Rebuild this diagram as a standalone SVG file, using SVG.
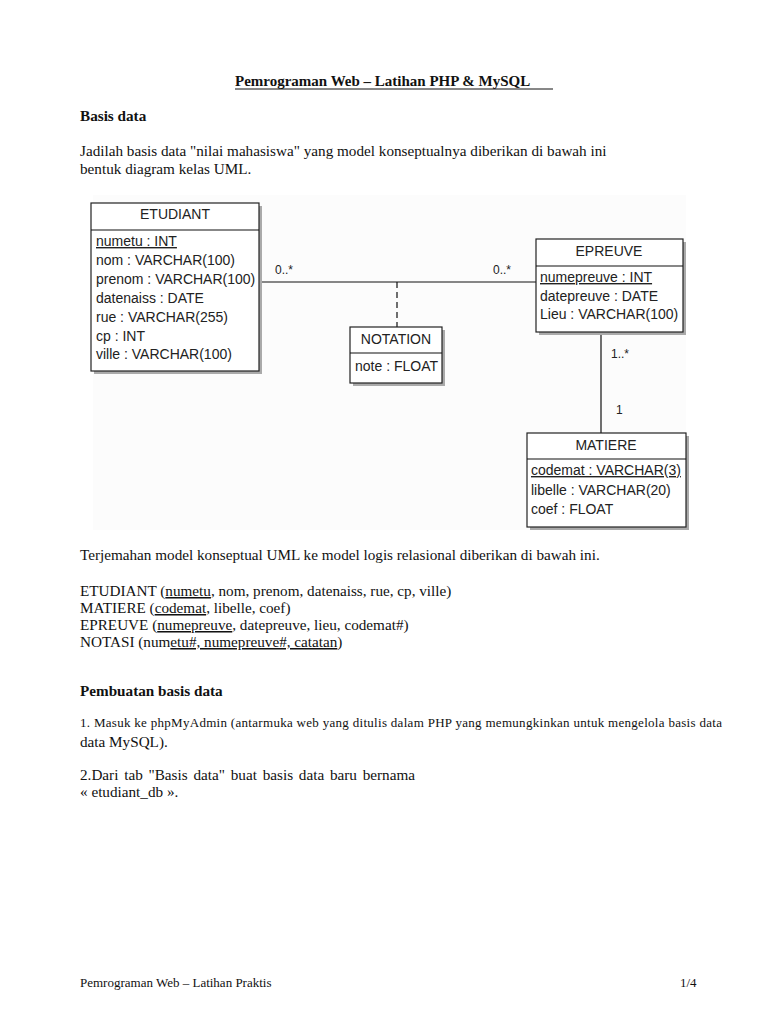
<svg xmlns="http://www.w3.org/2000/svg" width="768" height="1024" viewBox="0 0 768 1024">
<style>
.t{font-family:"Liberation Serif","Times New Roman",serif;font-size:15.2px;fill:#111}
.b{font-weight:bold}
.s{font-family:"Liberation Sans",Arial,sans-serif;font-size:14px;fill:#222}
.m{font-family:"Liberation Sans",Arial,sans-serif;font-size:12px;fill:#222}
.box{fill:#fff;stroke:#222;stroke-width:1.2}
.sh{fill:#aaa}
.ln{stroke:#111;stroke-width:1.2;fill:none}
</style>
<rect width="768" height="1024" fill="#fff"/>
<text class="t b" x="235" y="86" style="font-size:15px">Pemrograman Web – Latihan PHP &amp; MySQL</text>
<line x1="235" y1="89" x2="553" y2="89" stroke="#111" stroke-width="1"/>
<text class="t b" x="80" y="121">Basis data</text>
<text class="t" x="80" y="156">Jadilah basis data "nilai mahasiswa" yang model konseptualnya diberikan di bawah ini</text>
<text class="t" x="80" y="174">bentuk diagram kelas UML.</text>
<rect x="93" y="195" width="593" height="335" fill="#fcfcfc"/>
<g id="connectors">
<line class="ln" x1="259" y1="282" x2="536" y2="282"/>
<line class="ln" x1="397" y1="282" x2="397" y2="327" stroke-dasharray="6,4"/>
<line class="ln" x1="601" y1="332" x2="601" y2="433"/>
<text class="m" x="275" y="274">0..*</text>
<text class="m" x="493" y="274">0..*</text>
<text class="m" x="611" y="358">1..*</text>
<text class="m" x="616" y="414">1</text>
</g>
<g id="etudiant">
<rect class="sh" x="94" y="206" width="168" height="168"/>
<rect class="box" x="91" y="203" width="168" height="168"/>
<line class="ln" x1="91" y1="230" x2="259" y2="230"/>
<text class="s" x="175" y="219" text-anchor="middle">ETUDIANT</text>
<text class="s" x="96" y="246" text-decoration="underline">numetu : INT</text>
<text class="s" x="96" y="265">nom : VARCHAR(100)</text>
<text class="s" x="96" y="284">prenom : VARCHAR(100)</text>
<text class="s" x="96" y="303">datenaiss : DATE</text>
<text class="s" x="96" y="322">rue : VARCHAR(255)</text>
<text class="s" x="96" y="341">cp : INT</text>
<text class="s" x="96" y="359">ville : VARCHAR(100)</text>
</g>
<g id="notation">
<rect class="sh" x="353" y="330" width="92" height="56"/>
<rect class="box" x="350" y="327" width="92" height="56"/>
<line class="ln" x1="350" y1="353" x2="442" y2="353"/>
<text class="s" x="396" y="344" text-anchor="middle">NOTATION</text>
<text class="s" x="355" y="371">note : FLOAT</text>
</g>
<g id="epreuve">
<rect class="sh" x="539" y="242" width="147" height="93"/>
<rect class="box" x="536" y="239" width="147" height="93"/>
<line class="ln" x1="536" y1="266" x2="683" y2="266"/>
<text class="s" x="609" y="256" text-anchor="middle">EPREUVE</text>
<text class="s" x="540" y="282" text-decoration="underline">numepreuve : INT</text>
<text class="s" x="540" y="301">datepreuve : DATE</text>
<text class="s" x="540" y="319">Lieu : VARCHAR(100)</text>
</g>
<g id="matiere">
<rect class="sh" x="530" y="436" width="159" height="94"/>
<rect class="box" x="527" y="433" width="159" height="94"/>
<line class="ln" x1="527" y1="459" x2="686" y2="459"/>
<text class="s" x="606" y="450" text-anchor="middle">MATIERE</text>
<text class="s" x="531" y="475" text-decoration="underline">codemat : VARCHAR(3)</text>
<text class="s" x="531" y="495">libelle : VARCHAR(20)</text>
<text class="s" x="531" y="514">coef : FLOAT</text>
</g>
<text class="t" x="80" y="560">Terjemahan model konseptual UML ke model logis relasional diberikan di bawah ini.</text>
<text class="t" x="80" y="596">ETUDIANT (<tspan text-decoration="underline">numetu</tspan>, nom, prenom, datenaiss, rue, cp, ville)</text>
<text class="t" x="80" y="613">MATIERE (<tspan text-decoration="underline">codemat</tspan>, libelle, coef)</text>
<text class="t" x="80" y="630">EPREUVE (<tspan text-decoration="underline">numepreuve</tspan>, datepreuve, lieu, codemat#)</text>
<text class="t" x="80" y="647">NOTASI (num<tspan text-decoration="underline">etu#, numepreuve#, catatan</tspan>)</text>
<text class="t b" x="80" y="696">Pembuatan basis data</text>
<text class="t" x="80" y="727" style="font-size:13px" textLength="642" lengthAdjust="spacing">1. Masuk ke phpMyAdmin (antarmuka web yang ditulis dalam PHP yang memungkinkan untuk mengelola basis data</text>
<text class="t" x="80" y="747">data MySQL).</text>
<text class="t" x="80" y="780" word-spacing="2">2.Dari tab "Basis data" buat basis data baru bernama</text>
<text class="t" x="80" y="797">« etudiant_db ».</text>
<text class="t" x="80" y="987" style="font-size:13px">Pemrograman Web – Latihan Praktis</text>
<text class="t" x="680" y="987" style="font-size:13px">1/4</text>
</svg>
